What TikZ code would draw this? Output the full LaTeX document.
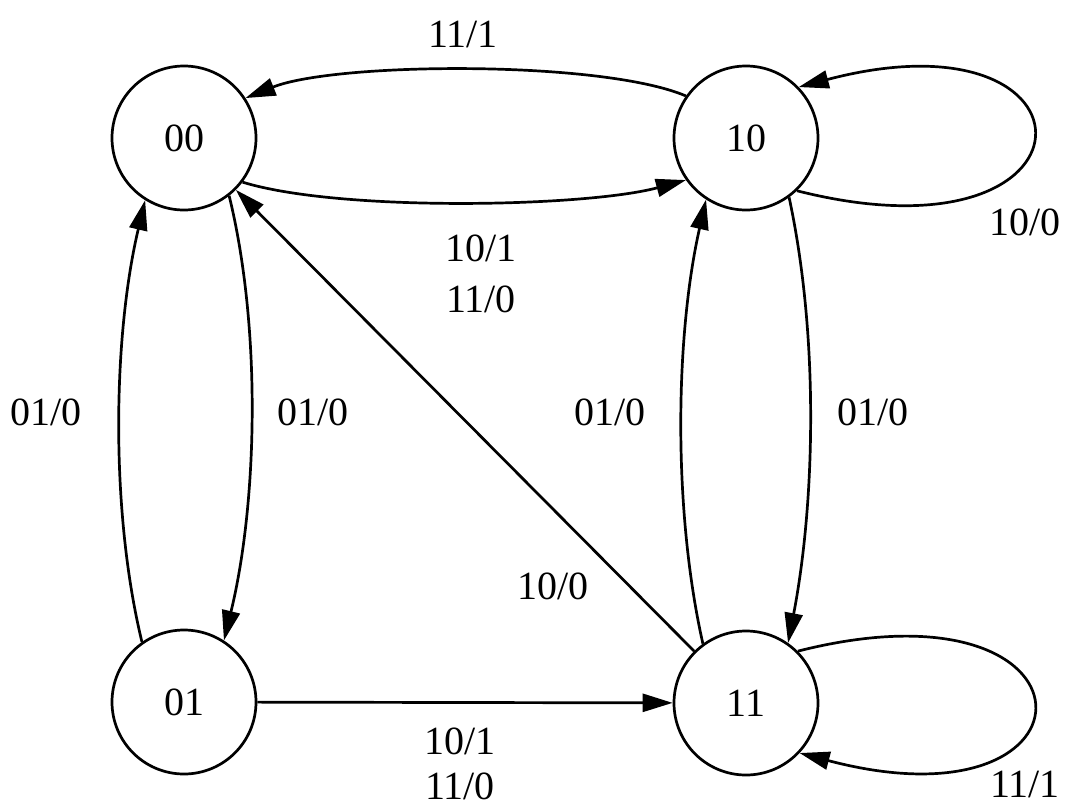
\documentclass[tikz,border=0pt]{standalone}
\usepackage{fontspec}
\setmainfont{Liberation Serif}
\usetikzlibrary{arrows.meta}
\begin{document}
\begin{tikzpicture}[x=1pt,y=-1pt,
  state/.style={circle,draw,line width=2.7pt,minimum size=144pt,inner sep=0pt,font=\fontsize{40}{40}\selectfont},
  lbl/.style={inner sep=0pt,font=\fontsize{40}{40}\selectfont},
  edge/.style={line width=2.7pt,-{Triangle[length=30pt,width=18pt]}}]
\useasboundingbox (0,0) rectangle (1069,807);
\node[state] (00) at (184,138) {00};
\node[state] (10) at (746,138) {10};
\node[state] (01) at (184,702) {01};
\node[state] (11) at (746,703) {11};
% 10 -> 00
\draw[edge] (10.145) .. controls +(-85,-36) and +(90,-36) .. (00.33);
% 00 -> 10
\draw[edge] (00.-37) .. controls +(97,30) and +(-100,27) .. (10.-145);
% 00 -> 01
\draw[edge] (00.-52) .. controls +(33,135) and +(33,-135) .. (01.57);
% 01 -> 00
\draw[edge] (01.125) .. controls +(-32,-132) and +(-32,135) .. (00.-122);
% 11 -> 10
\draw[edge] (11.126) .. controls +(-30,-133) and +(-31,137) .. (10.-123);
% 10 -> 11
\draw[edge] (10.-54) .. controls +(31,145) and +(26,-135) .. (11.55);
% 11 -> 00
\draw[edge] (11.135) -- (00.-45);
% 01 -> 11
\draw[edge] (01) -- (11);
% self loops
\draw[edge] (10.-46) .. controls (1110,270) and (1110,5) .. (10.44);
\draw[edge] (11.45) .. controls (1110,572) and (1110,835) .. (11.-43);
% labels
\node[lbl] (l1) at (463,34) {11/1};
\node[lbl] (l2) at (481,248) {10/1};
\node[lbl] (l3) at (481,299) {11/0};
\node[lbl] (l4) at (46,412) {01/0};
\node[lbl] (l5) at (313,412) {01/0};
\node[lbl] (l6) at (610,412) {01/0};
\node[lbl] (l7) at (873,412) {01/0};
\node[lbl] (l8) at (553,586) {10/0};
\node[lbl] (l9) at (460,741) {10/1};
\node[lbl] (l10) at (460,786) {11/0};
\node[lbl] (l11) at (1025,222) {10/0};
\node[lbl] (l12) at (1025,784) {11/1};
\end{tikzpicture}
\end{document}
